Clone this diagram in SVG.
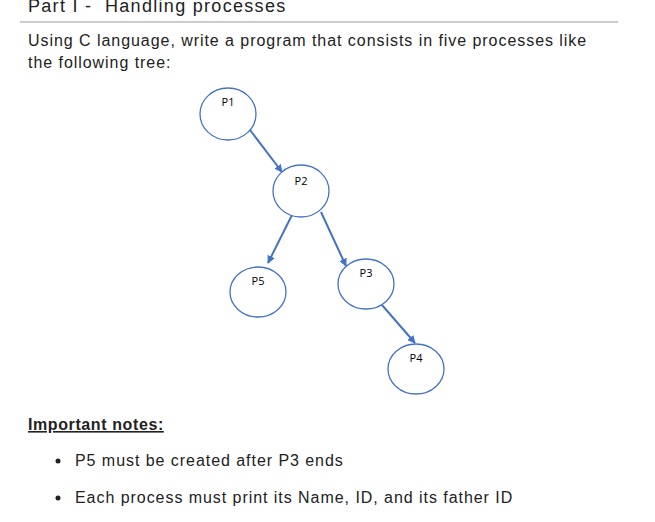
<svg xmlns="http://www.w3.org/2000/svg" width="655" height="522" viewBox="0 0 655 522">
<style>
.t{font-family:"Liberation Sans",Arial,sans-serif;font-size:16px;fill:#222;letter-spacing:0.95px}
.n ellipse{fill:#fff;stroke:#4472c4;stroke-width:1.3}
.n text{font-family:"Open Sans","DejaVu Sans",sans-serif;font-size:11px;fill:#000;text-anchor:middle}
.c line{stroke:#4472c4;stroke-width:2}
</style>
<defs><marker id="a" viewBox="0 0 10 10" refX="9" refY="5" markerWidth="4" markerHeight="4" orient="auto"><path d="M0,0L10,5L0,10z" fill="#4472c4"/></marker></defs>
<rect width="655" height="522" fill="#fff"/>
<text class="t" x="28" y="12" style="font-size:18px;letter-spacing:1.3px" xml:space="preserve">Part I -  Handling processes</text>
<line x1="20" y1="22" x2="618" y2="22" stroke="#999" stroke-width="1"/>
<text class="t" x="28" y="46">Using C language, write a program that consists in five processes like</text>
<text class="t" x="28" y="68">the following tree:</text>
<g class="c">
<line x1="250" y1="130" x2="282" y2="172" marker-end="url(#a)"/>
<line x1="292" y1="215" x2="268" y2="263" marker-end="url(#a)"/>
<line x1="321" y1="212" x2="346" y2="266" marker-end="url(#a)"/>
<line x1="382" y1="305" x2="415" y2="343" marker-end="url(#a)"/>
</g>
<g id="P1" class="n"><ellipse cx="228" cy="114" rx="28" ry="26"/><text x="228" y="106">P1</text></g>
<g id="P2" class="n"><ellipse cx="301" cy="191" rx="28" ry="26"/><text x="301" y="185">P2</text></g>
<g id="P5" class="n"><ellipse cx="258" cy="292" rx="28" ry="25"/><text x="258" y="285">P5</text></g>
<g id="P3" class="n"><ellipse cx="366" cy="284" rx="28" ry="25"/><text x="366" y="277">P3</text></g>
<g id="P4" class="n"><ellipse cx="416" cy="369" rx="28" ry="25"/><text x="416" y="362">P4</text></g>
<text class="t" x="28" y="430" style="font-weight:bold;text-decoration:underline;letter-spacing:0.6px">Important notes:</text>
<circle cx="58" cy="461" r="2.5" fill="#222"/>
<text class="t" x="75" y="466">P5 must be created after P3 ends</text>
<circle cx="58" cy="498" r="2.5" fill="#222"/>
<text class="t" x="75" y="503">Each process must print its Name, ID, and its father ID</text>
</svg>
